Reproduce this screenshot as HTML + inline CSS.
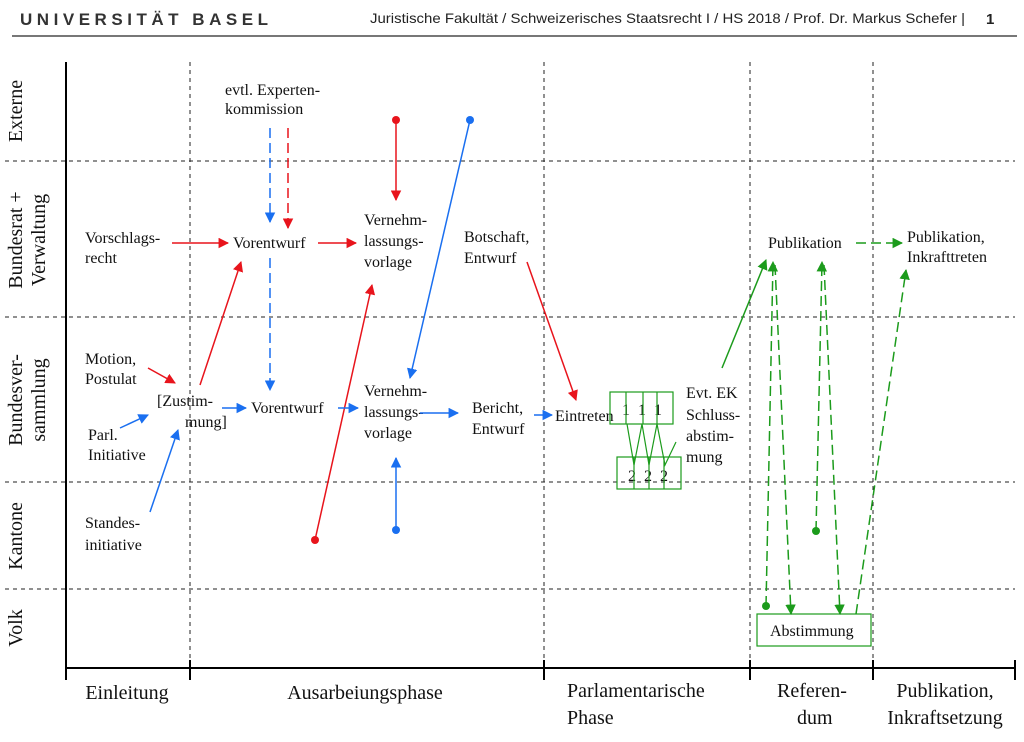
<!DOCTYPE html>
<html><head><meta charset="utf-8"><style>
body{margin:0;background:#fff}
svg{display:block}
.t{font-family:"Liberation Serif",serif;font-size:16px;fill:#111}
</style></head><body>
<svg width="1024" height="742" xmlns="http://www.w3.org/2000/svg">
<defs>
<marker id="r" viewBox="0 0 10 10" refX="9" refY="5" markerWidth="7" markerHeight="7" orient="auto"><path d="M0,0L10,5L0,10z" fill="#e8141c"/></marker>
<marker id="b" viewBox="0 0 10 10" refX="9" refY="5" markerWidth="7" markerHeight="7" orient="auto"><path d="M0,0L10,5L0,10z" fill="#1a6ff0"/></marker>
<marker id="g" viewBox="0 0 10 10" refX="9" refY="5" markerWidth="7" markerHeight="7" orient="auto"><path d="M0,0L10,5L0,10z" fill="#1c9b1c"/></marker>
</defs>
<text x="20" y="25" font-family="Liberation Sans,sans-serif" font-weight="bold" font-size="17" textLength="248" lengthAdjust="spacing" fill="#333">UNIVERSITÄT BASEL</text>
<text x="370" y="23" font-family="Liberation Sans,sans-serif" font-size="14" textLength="595" lengthAdjust="spacingAndGlyphs" fill="#222">Juristische Fakultät  /  Schweizerisches Staatsrecht I  /  HS 2018  /  Prof. Dr. Markus Schefer |</text>
<text x="986" y="24" font-family="Liberation Sans,sans-serif" font-weight="bold" font-size="15" fill="#222">1</text>
<line x1="12" y1="36" x2="1017" y2="36" stroke="#777" stroke-width="2"/>

<g stroke="#222" stroke-width="1" stroke-dasharray="4,4">
<line x1="5" y1="161" x2="1015" y2="161"/><line x1="5" y1="317" x2="1015" y2="317"/>
<line x1="5" y1="482" x2="1015" y2="482"/><line x1="5" y1="589" x2="1015" y2="589"/>
<line x1="190" y1="62" x2="190" y2="668"/><line x1="544" y1="62" x2="544" y2="668"/>
<line x1="750" y1="62" x2="750" y2="668"/><line x1="873" y1="62" x2="873" y2="668"/>
</g>
<g stroke="#000" stroke-width="2">
<line x1="66" y1="62" x2="66" y2="680"/><line x1="66" y1="668" x2="1015" y2="668"/>
<line x1="190" y1="660" x2="190" y2="680"/><line x1="544" y1="660" x2="544" y2="680"/>
<line x1="750" y1="660" x2="750" y2="680"/><line x1="873" y1="660" x2="873" y2="680"/>
<line x1="1015" y1="660" x2="1015" y2="680"/>
</g>

<g class="t" style="font-size:20px">
<text transform="translate(22,111) rotate(-90)" text-anchor="middle">Externe</text>
<text transform="translate(22,240) rotate(-90)" text-anchor="middle">Bundesrat +</text>
<text transform="translate(45,240) rotate(-90)" text-anchor="middle">Verwaltung</text>
<text transform="translate(22,400) rotate(-90)" text-anchor="middle">Bundesver-</text>
<text transform="translate(45,400) rotate(-90)" text-anchor="middle">sammlung</text>
<text transform="translate(22,536) rotate(-90)" text-anchor="middle">Kantone</text>
<text transform="translate(22,628) rotate(-90)" text-anchor="middle">Volk</text>
<text x="127" y="699" text-anchor="middle">Einleitung</text>
<text x="365" y="699" text-anchor="middle">Ausarbeiungsphase</text>
<text x="567" y="697">Parlamentarische</text>
<text x="567" y="724">Phase</text>
<text x="777" y="697">Referen-</text>
<text x="797" y="724">dum</text>
<text x="945" y="697" text-anchor="middle">Publikation,</text>
<text x="945" y="724" text-anchor="middle">Inkraftsetzung</text>
</g>

<g class="t">
<text x="225" y="95">evtl. Experten-</text><text x="225" y="114">kommission</text>
<text x="85" y="243">Vorschlags-</text><text x="85" y="263">recht</text>
<text x="233" y="248">Vorentwurf</text>
<text x="364" y="225">Vernehm-</text><text x="364" y="246">lassungs-</text><text x="364" y="267">vorlage</text>
<text x="464" y="242">Botschaft,</text><text x="464" y="263">Entwurf</text>
<text x="768" y="248">Publikation</text>
<text x="907" y="242">Publikation,</text><text x="907" y="262">Inkrafttreten</text>
<text x="85" y="364">Motion,</text><text x="85" y="384">Postulat</text>
<text x="157" y="406">[Zustim-</text><text x="185" y="427">mung]</text>
<text x="88" y="440">Parl.</text><text x="88" y="460">Initiative</text>
<text x="251" y="413">Vorentwurf</text>
<text x="364" y="396">Vernehm-</text><text x="364" y="417">lassungs-</text><text x="364" y="438">vorlage</text>
<text x="472" y="413">Bericht,</text><text x="472" y="434">Entwurf</text>
<text x="555" y="421">Eintreten</text>
<text x="686" y="398">Evt. EK</text><text x="686" y="420">Schluss-</text><text x="686" y="441">abstim-</text><text x="686" y="462">mung</text>
<text x="85" y="528">Standes-</text><text x="85" y="550">initiative</text>
<text x="770" y="636">Abstimmung</text>
<text x="622" y="415">1</text><text x="638" y="415">1</text><text x="654" y="415">1</text>
<text x="628" y="481">2</text><text x="644" y="481">2</text><text x="660" y="481">2</text>
</g>

<g stroke="#e8141c" stroke-width="1.5" fill="none" marker-end="url(#r)">
<line x1="172" y1="243" x2="228" y2="243"/>
<line x1="318" y1="243" x2="356" y2="243"/>
<line x1="527" y1="262" x2="576" y2="400"/>
<line x1="148" y1="368" x2="175" y2="383"/>
<line x1="200" y1="385" x2="241" y2="262"/>
<line x1="315" y1="540" x2="372" y2="285"/>
<line x1="396" y1="120" x2="396" y2="200"/>
<line x1="288" y1="128" x2="288" y2="228" stroke-dasharray="10,5"/>
</g>
<circle cx="315" cy="540" r="4" fill="#e8141c"/><circle cx="396" cy="120" r="4" fill="#e8141c"/>

<g stroke="#1a6ff0" stroke-width="1.5" fill="none" marker-end="url(#b)">
<line x1="270" y1="128" x2="270" y2="222" stroke-dasharray="10,5"/>
<line x1="270" y1="258" x2="270" y2="390" stroke-dasharray="10,5"/>
<line x1="120" y1="428" x2="148" y2="415"/>
<line x1="150" y1="512" x2="178" y2="430"/>
<line x1="222" y1="408" x2="246" y2="408"/>
<line x1="338" y1="408" x2="358" y2="408"/>
<line x1="420" y1="413" x2="458" y2="413"/>
<line x1="534" y1="415" x2="552" y2="415"/>
<line x1="470" y1="120" x2="410" y2="378"/>
<line x1="396" y1="530" x2="396" y2="458"/>
</g>
<circle cx="470" cy="120" r="4" fill="#1a6ff0"/><circle cx="396" cy="530" r="4" fill="#1a6ff0"/>

<g stroke="#1c9b1c" stroke-width="1.2" fill="none">
<rect x="610" y="392" width="63" height="32"/><line x1="626" y1="392" x2="626" y2="424"/><line x1="643" y1="392" x2="643" y2="424"/><line x1="657" y1="392" x2="657" y2="424"/>
<rect x="617" y="457" width="64" height="32"/><line x1="634" y1="457" x2="634" y2="489"/><line x1="649" y1="457" x2="649" y2="489"/><line x1="664" y1="457" x2="664" y2="489"/>
<polyline points="627,424 634,465 642,424 649,465 657,424 665,465 676,442"/>
<rect x="757" y="614" width="114" height="32"/>
</g>
<g stroke="#1c9b1c" stroke-width="1.5" fill="none" marker-end="url(#g)">
<line x1="722" y1="368" x2="766" y2="260"/>
<g stroke-dasharray="10,5">
<line x1="856" y1="243" x2="902" y2="243"/>
<line x1="766" y1="606" x2="773" y2="262"/>
<line x1="775" y1="265" x2="791" y2="614"/>
<line x1="816" y1="531" x2="822" y2="262"/>
<line x1="824" y1="265" x2="840" y2="614"/>
<line x1="856" y1="614" x2="906" y2="270"/>
</g>
</g>
<circle cx="766" cy="606" r="4" fill="#1c9b1c"/><circle cx="816" cy="531" r="4" fill="#1c9b1c"/>
</svg>
</body></html>
